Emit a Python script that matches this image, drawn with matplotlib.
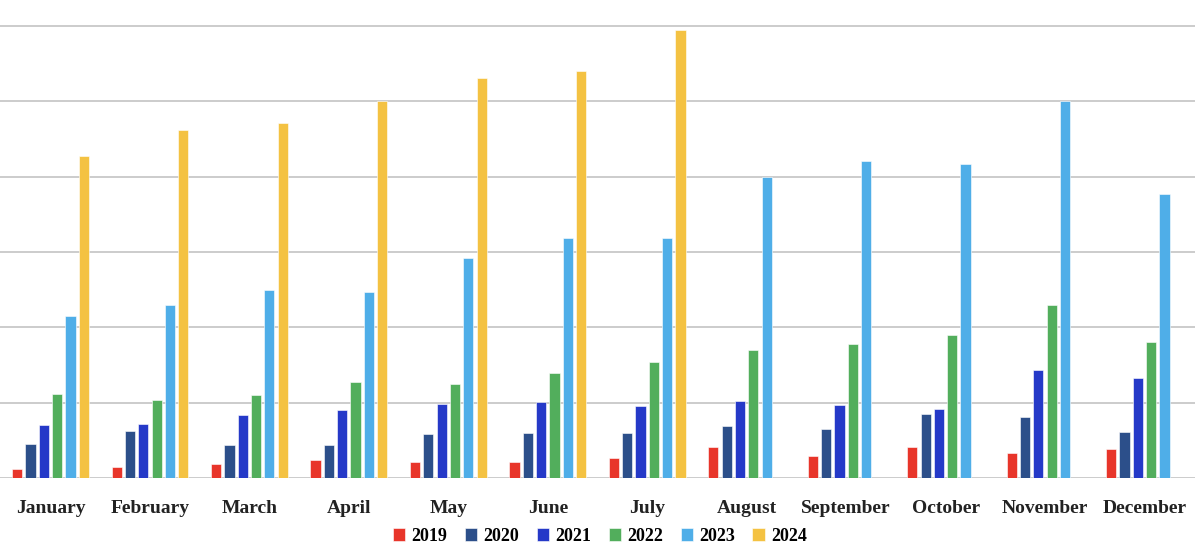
import numpy as np
from matplotlib import pyplot as plt

months = ['January', 'February', 'March', 'April', 'May', 'June', 'July',
          'August', 'September', 'October', 'November', 'December']
years = ['2019', '2020', '2021', '2022', '2023', '2024']

v2019 = [1.2, 1.5, 1.9, 2.4, 2.1, 2.1, 2.7, 4.1, 2.9, 4.1, 3.3, 3.8]
v2020 = [4.5, 6.2, 4.4, 4.4, 5.8, 6.0, 6.0, 6.9, 6.5, 8.5, 8.1, 6.1]
v2021 = [7.0, 7.2, 8.4, 9.0, 9.8, 10.1, 9.6, 10.2, 9.7, 9.2, 14.4, 13.3]
v2022 = [11.2, 10.4, 11.0, 12.7, 12.5, 13.9, 15.4, 17.0, 17.8, 19.0, 23.0, 18.1]
v2023 = [21.5, 23.0, 25.0, 24.7, 29.2, 31.9, 31.9, 40.0, 42.1, 41.7, 50.0, 37.7]
v2024 = [42.8, 46.2, 47.1, 50.0, 53.1, 54.0, 59.5, None, None, None, None, None]

colors = ['#e8352a', '#2c4f8a', '#2539c8', '#52ae5c', '#4faee8', '#f4c242']

series = [v2019, v2020, v2021, v2022, v2023, v2024]

plt.rcParams['font.family'] = ['Liberation Serif', 'DejaVu Serif']

fig = plt.figure(figsize=(12, 5.6), dpi=100)
ax = fig.add_axes([0.0, 0.1464, 0.996, 0.8206])

x = np.arange(len(months))
pitch = 0.134
width = 0.102
for i, (vals, yr, c) in enumerate(zip(series, years, colors)):
    h = np.array([np.nan if v is None else v for v in vals], dtype=float)
    ax.bar(x + (i - 2.5) * pitch, h, width, color=c, label=yr,
           edgecolor='white', linewidth=0.4, zorder=3)

ax.set_xlim(-0.508, 11.51)
ax.set_ylim(0, 61)
ax.set_yticks(np.arange(0, 61, 10))
ax.yaxis.grid(True, color='#cccccc', linewidth=1.4, zorder=0)
ax.set_yticklabels([])
ax.tick_params(axis='y', length=0)
ax.set_xticks(x)
ax.set_xticklabels(months, fontsize=14, fontweight='bold', color='#222222')
ax.tick_params(axis='x', length=0, pad=16)
for s in ax.spines.values():
    s.set_visible(False)

fig.legend(loc='center', bbox_to_anchor=(0.5, 0.042), ncol=6, frameon=False,
           prop={'size': 13, 'weight': 'bold'}, handlelength=0.7, handleheight=0.7,
           handletextpad=0.35, columnspacing=0.95)

fig.savefig('out.png', dpi=100, facecolor='white')
